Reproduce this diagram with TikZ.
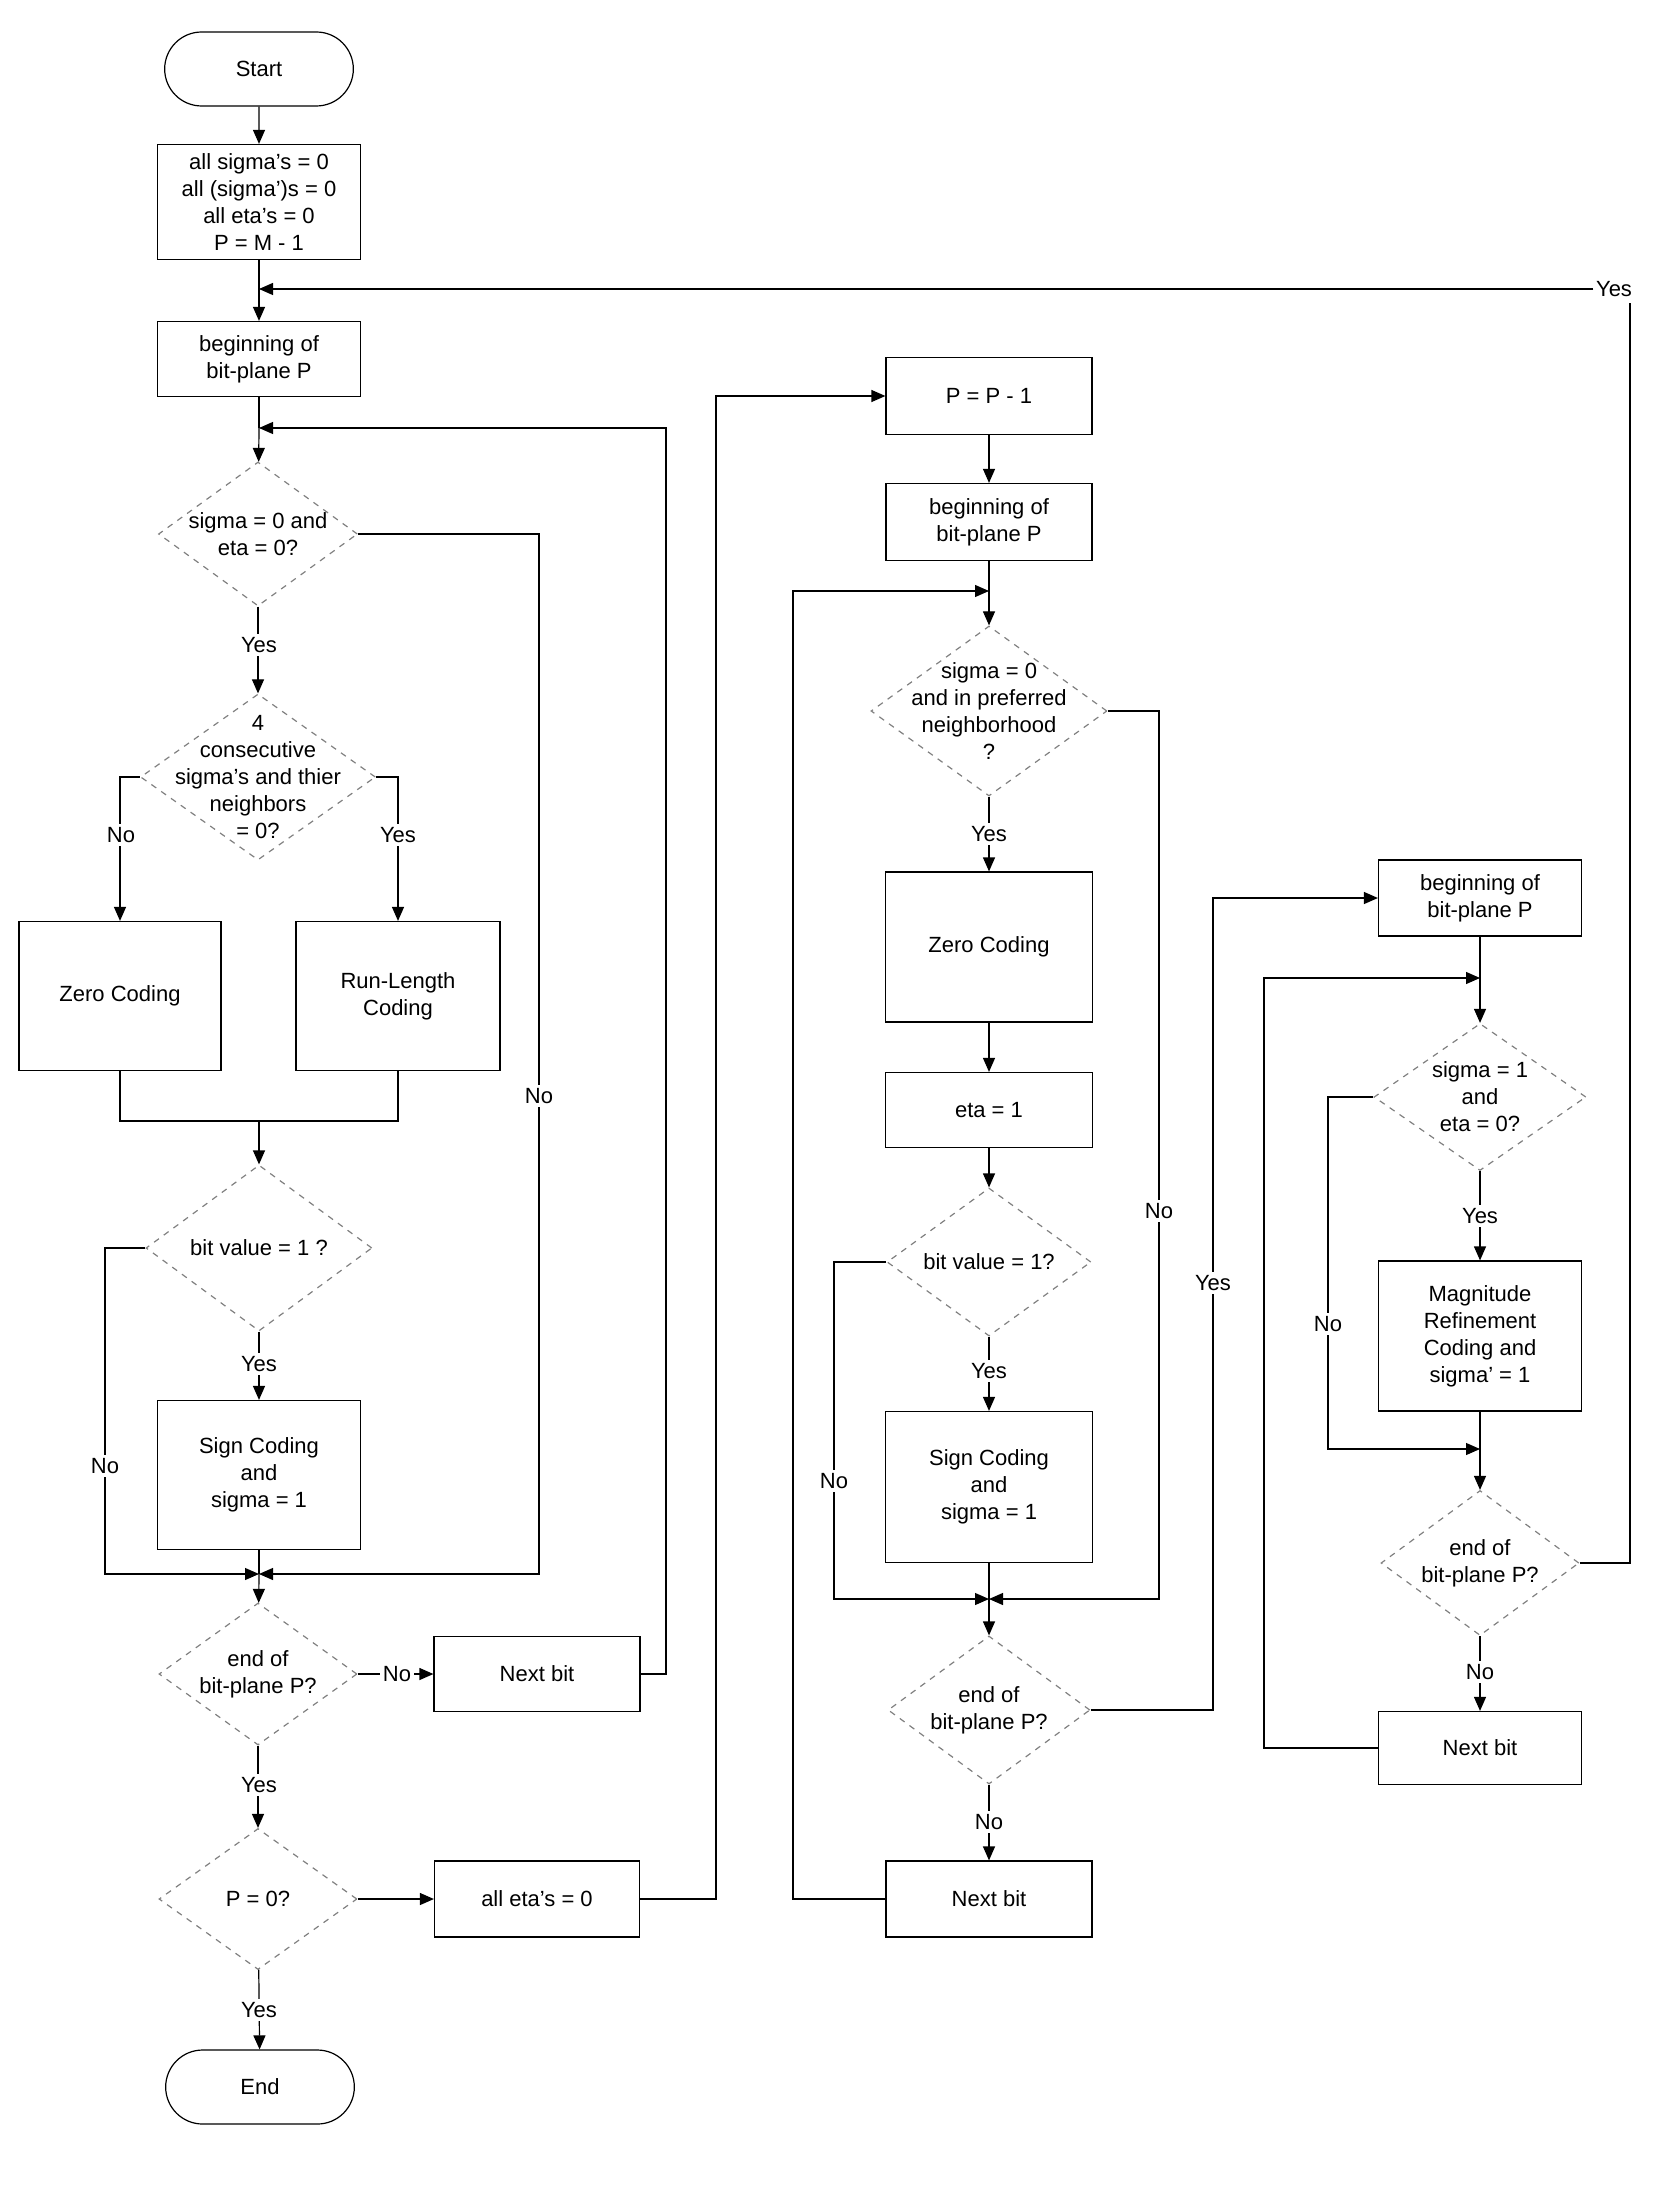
\documentclass[tikz,border=0pt]{standalone}
\usepackage{fontspec}
\setmainfont{Liberation Sans}
\usetikzlibrary{shapes.geometric,shapes.misc,arrows.meta}

\begin{document}
\begin{tikzpicture}[x=0.5pt,y=-0.5pt,
  font=\fontsize{11}{13.5}\selectfont,
  every path/.style={line width=0.6pt},
  arr/.style={-{Triangle[length=7pt,width=6pt]}},
  box/.style={draw,rectangle,align=center,inner sep=2pt},
  term/.style={draw,rounded rectangle,minimum width=101pt,minimum height=37pt},
  dec/.style={draw=gray,dashed,diamond,inner sep=0pt},
  dtext/.style={label={[align=center]center:#1}},
  lbl/.style={fill=white,inner sep=1.5pt}]
\useasboundingbox (0,0) rectangle (1658,2209);

% column 1
\node[term] (start) at (259,69) {Start};
\node[box,minimum width=101.5pt,minimum height=57.5pt] (init) at (259,202)
  {all sigma's = 0\\all (sigma')s = 0\\all eta's = 0\\P = M - 1};
\coordinate (m1) at (259,289);
\node[box,minimum width=101.5pt,minimum height=37.5pt] (bp1) at (259,359) {beginning of\\bit-plane P};
\coordinate (m2) at (259,428);
\node[dec,minimum width=99.5pt,minimum height=72pt,dtext={sigma = 0 and\\eta = 0?}] (d1) at (258,534) {};
\node[dec,minimum width=117.5pt,minimum height=83pt,dtext={4\\consecutive\\sigma's and thier\\neighbors\\= 0?}] (d2) at (258,777) {};
\node[box,minimum width=101pt,minimum height=74.5pt] (zc1) at (120,996) {Zero Coding};
\node[box,minimum width=102pt,minimum height=74.5pt] (rl) at (398,996) {Run-Length\\Coding};
\coordinate (j1) at (259,1121);
\node[dec,minimum width=113pt,minimum height=83pt,dtext={bit value = 1 ?}] (d3) at (259,1248) {};
\node[box,minimum width=101.5pt,minimum height=74.5pt] (sc1) at (259,1475) {Sign Coding\\and\\sigma = 1};
\coordinate (m3) at (259,1574);
\node[dec,minimum width=99pt,minimum height=71pt,dtext={end of\\bit-plane P?}] (d4) at (258,1674) {};
\node[box,minimum width=103pt,minimum height=37.5pt] (nb1) at (537,1674) {Next bit};
\node[dec,minimum width=99pt,minimum height=70.5pt,dtext={P = 0?}] (d5) at (258,1899) {};
\node[box,minimum width=102.5pt,minimum height=38pt] (ae) at (537,1899) {all eta's = 0};
\node[term] (end) at (260,2087) {End};

% column 2
\node[box,minimum width=103pt,minimum height=38.5pt] (pm) at (989,396) {P = P - 1};
\node[box,minimum width=103pt,minimum height=38.5pt] (bp2) at (989,522) {beginning of\\bit-plane P};
\coordinate (m4) at (989,591);
\node[dec,minimum width=118pt,minimum height=85pt,dtext={sigma = 0\\and in preferred\\neighborhood\\?}] (d6) at (989,711) {};
\node[box,minimum width=103.5pt,minimum height=75pt] (zc2) at (989,947) {Zero Coding};
\node[box,minimum width=103.5pt,minimum height=37.5pt] (eta) at (989,1110) {eta = 1};
\node[dec,minimum width=102pt,minimum height=74pt,dtext={bit value = 1?}] (d7) at (989,1262) {};
\node[box,minimum width=103.5pt,minimum height=75.5pt] (sc2) at (989,1487) {Sign Coding\\and\\sigma = 1};
\coordinate (m5) at (989,1599);
\node[dec,minimum width=101pt,minimum height=74pt,dtext={end of\\bit-plane P?}] (d8) at (989,1710) {};
\node[box,minimum width=103pt,minimum height=38pt] (nb2) at (989,1899) {Next bit};

% column 3
\node[box,minimum width=101.5pt,minimum height=38pt] (bp3) at (1480,898) {beginning of\\bit-plane P};
\coordinate (m6) at (1480,978);
\node[dec,minimum width=106pt,minimum height=73.5pt,dtext={sigma = 1\\and\\eta = 0?}] (d9) at (1480,1097) {};
\node[box,minimum width=101.5pt,minimum height=75pt] (mr) at (1480,1336) {Magnitude\\Refinement\\Coding and\\sigma' = 1};
\coordinate (m7) at (1480,1449);
\node[dec,minimum width=99pt,minimum height=72.5pt,dtext={end of\\bit-plane P?}] (d10) at (1480,1563) {};
\node[box,minimum width=101.5pt,minimum height=36.5pt] (nb3) at (1480,1748) {Next bit};

% column 1 connectors
\draw[arr] (start) -- (init);
\draw (init) -- (m1);
\draw[arr] (m1) -- (bp1);
\draw (bp1) -- (m2);
\draw[arr] (m2) -- (d1);
\draw[arr] (d1) -- (d2);
\node[lbl] (y1) at (259,645) {Yes};
\draw[arr] (d2.west) -| (zc1.north);
\draw[arr] (d2.east) -| (rl.north);
\node[lbl] (n2) at (121,835) {No};
\node[lbl] (y2) at (398,835) {Yes};
\draw (zc1.south) |- (j1) -| (rl.south);
\draw[arr] (j1) -- (d3);
\draw[arr] (d3) -- (sc1);
\node[lbl] (y3) at (259,1364) {Yes};
\draw (sc1) -- (m3);
\draw[arr] (d3.west) -| (105,1574) -- (m3);
\node[lbl] (n3) at (105,1466) {No};
\draw[arr] (d1.east) -| (539,1574) -- (m3);
\node[lbl] (n1) at (539,1096) {No};
\draw[arr] (m3) -- (d4);
\draw[arr] (d4) -- (nb1);
\node[lbl] (n4) at (397,1674) {No};
\draw[arr] (nb1.east) -- (666,1674) |- (m2);
\draw[arr] (d4) -- (d5);
\node[lbl] (y4) at (259,1785) {Yes};
\draw[arr] (d5) -- (end);
\node[lbl] (y5) at (259,2010) {Yes};
\draw[arr] (d5.east) -- (ae.west);
\draw[arr] (ae.east) -- (716,1899) |- (pm.west);

% column 2 connectors
\draw[arr] (pm) -- (bp2);
\draw (bp2) -- (m4);
\draw[arr] (m4) -- (d6);
\draw[arr] (d6) -- (zc2);
\node[lbl] (y6) at (989,834) {Yes};
\draw[arr] (zc2) -- (eta);
\draw[arr] (eta) -- (d7);
\draw[arr] (d7) -- (sc2);
\node[lbl] (y7) at (989,1371) {Yes};
\draw (sc2) -- (m5);
\draw[arr] (d7.west) -| (834,1599) -- (m5);
\node[lbl] (n7) at (834,1481) {No};
\draw[arr] (d6.east) -| (1159,1599) -- (m5);
\node[lbl] (n6) at (1159,1211) {No};
\draw[arr] (m5) -- (d8);
\draw[arr] (d8) -- (nb2);
\node[lbl] (n8) at (989,1822) {No};
\draw[arr] (nb2.west) -- (793,1899) |- (m4);
\draw[arr] (d8.east) -- (1213,1710) |- (bp3.west);
\node[lbl] (y8) at (1213,1283) {Yes};

% column 3 connectors
\draw (bp3) -- (m6);
\draw[arr] (m6) -- (d9);
\draw[arr] (d9) -- (mr);
\node[lbl] (y9) at (1480,1216) {Yes};
\draw (mr) -- (m7);
\draw[arr] (d9.west) -- (1328,1097) |- (m7);
\node[lbl] (n9) at (1328,1324) {No};
\draw[arr] (m7) -- (d10);
\draw[arr] (d10) -- (nb3);
\node[lbl] (n10) at (1480,1672) {No};
\draw[arr] (nb3.west) -- (1264,1748) |- (m6);
\node[inner sep=1pt] (y10) at (1614,289) {Yes};
\draw (d10.east) -| (1630,303);
\draw[arr] (y10.west) -- (m1);
\end{tikzpicture}
\end{document}
